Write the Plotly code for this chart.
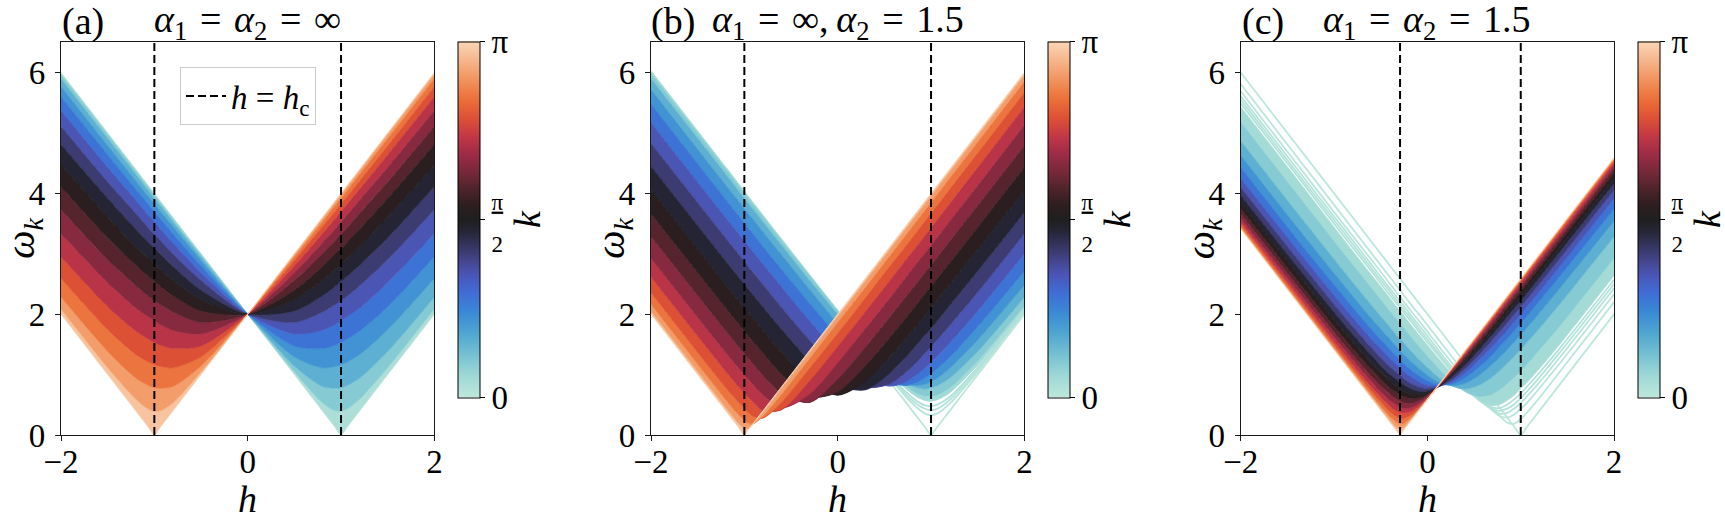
import plotly.graph_objects as go

PI = 3.141592653589793

# ---------------- data: panel (a)  alpha1 = alpha2 = inf ----------------
H_A = [-2, -1.5, -1.2, -1.07, -1, -0.93, -0.8, -0.5, 0, 0.5, 0.8, 0.93, 1, 1.07, 1.2, 1.5, 2]
K_A = [0, 0.1963, 0.3927, 0.5890, 0.7854, 0.9817, 1.1781, 1.3744, 1.5708,
       1.7671, 1.9635, 2.1598, 2.3562, 2.5525, 2.7489, 2.9452, 3.1416]
W_A = [
    [6.00, 5.00, 4.40, 4.14, 4.00, 3.86, 3.60, 3.00, 2.00, 1.00, 0.40, 0.14, 0.00, 0.14, 0.40, 1.00, 2.00],
    [5.97, 4.98, 4.38, 4.12, 3.98, 3.84, 3.58, 2.99, 2.00, 1.04, 0.53, 0.40, 0.39, 0.43, 0.59, 1.11, 2.08],
    [5.90, 4.91, 4.32, 4.06, 3.92, 3.79, 3.53, 2.95, 2.00, 1.14, 0.80, 0.77, 0.78, 0.82, 0.94, 1.38, 2.28],
    [5.77, 4.79, 4.21, 3.96, 3.83, 3.69, 3.45, 2.89, 2.00, 1.29, 1.11, 1.13, 1.16, 1.21, 1.33, 1.74, 2.59],
    [5.60, 4.64, 4.07, 3.83, 3.70, 3.57, 3.33, 2.80, 2.00, 1.47, 1.43, 1.48, 1.53, 1.59, 1.72, 2.12, 2.95],
    [5.37, 4.43, 3.89, 3.65, 3.53, 3.40, 3.18, 2.69, 2.00, 1.67, 1.73, 1.82, 1.89, 1.96, 2.10, 2.52, 3.33],
    [5.11, 4.19, 3.67, 3.44, 3.33, 3.21, 3.00, 2.56, 2.00, 1.86, 2.03, 2.15, 2.22, 2.30, 2.47, 2.90, 3.73],
    [4.81, 3.92, 3.41, 3.20, 3.09, 2.99, 2.79, 2.40, 2.00, 2.05, 2.30, 2.45, 2.54, 2.63, 2.81, 3.26, 4.11],
    [4.47, 3.61, 3.12, 2.93, 2.83, 2.73, 2.56, 2.24, 2.00, 2.24, 2.56, 2.73, 2.83, 2.93, 3.12, 3.61, 4.47],
    [4.11, 3.26, 2.81, 2.63, 2.54, 2.45, 2.30, 2.05, 2.00, 2.40, 2.79, 2.99, 3.09, 3.20, 3.41, 3.92, 4.81],
    [3.73, 2.90, 2.47, 2.30, 2.22, 2.15, 2.03, 1.86, 2.00, 2.56, 3.00, 3.21, 3.33, 3.44, 3.67, 4.19, 5.11],
    [3.33, 2.52, 2.10, 1.96, 1.89, 1.82, 1.73, 1.67, 2.00, 2.69, 3.18, 3.40, 3.53, 3.65, 3.89, 4.43, 5.37],
    [2.95, 2.12, 1.72, 1.59, 1.53, 1.48, 1.43, 1.47, 2.00, 2.80, 3.33, 3.57, 3.70, 3.83, 4.07, 4.64, 5.60],
    [2.59, 1.74, 1.33, 1.21, 1.16, 1.13, 1.11, 1.29, 2.00, 2.89, 3.45, 3.69, 3.83, 3.96, 4.21, 4.79, 5.77],
    [2.28, 1.38, 0.94, 0.82, 0.78, 0.77, 0.80, 1.14, 2.00, 2.95, 3.53, 3.79, 3.92, 4.06, 4.32, 4.91, 5.90],
    [2.08, 1.11, 0.59, 0.43, 0.39, 0.40, 0.53, 1.04, 2.00, 2.99, 3.58, 3.84, 3.98, 4.12, 4.38, 4.98, 5.97],
    [2.00, 1.00, 0.40, 0.14, 0.00, 0.14, 0.40, 1.00, 2.00, 3.00, 3.60, 3.86, 4.00, 4.14, 4.40, 5.00, 6.00],
]
HCRIT_A = [-1, 1]

# ---------------- data: panel (b)  alpha1 = inf, alpha2 = 1.5 ----------------
H_B = [-2, -1.2, -1.07, -1, -0.96, -0.9, -0.8, -0.6, -0.3, 0, 0.3, 0.55, 0.72, 0.85, 0.94, 1, 1.06, 1.2, 1.5, 2]
K_B = [0, 0.0376, 0.0625, 0.0924, 0.1389, 0.1963, 0.3927, 0.5890, 0.7854, 0.9817, 1.1781,
       1.3744, 1.5708, 1.7671, 1.9635, 2.1598, 2.3562, 2.5525, 2.7489, 2.9452, 3.1416]
W_B = [
    [6.00, 4.40, 4.14, 4.00, 3.92, 3.80, 3.60, 3.20, 2.60, 2.00, 1.40, 0.90, 0.56, 0.30, 0.12, 0.00, 0.12, 0.40, 1.00, 2.00],
    [6.01, 4.41, 4.15, 4.01, 3.93, 3.81, 3.61, 3.22, 2.62, 2.03, 1.44, 0.96, 0.65, 0.45, 0.35, 0.33, 0.35, 0.52, 1.05, 2.03],
    [6.01, 4.42, 4.16, 4.02, 3.94, 3.82, 3.62, 3.22, 2.63, 2.04, 1.46, 0.99, 0.69, 0.51, 0.43, 0.41, 0.43, 0.58, 1.08, 2.05],
    [6.01, 4.42, 4.16, 4.02, 3.94, 3.82, 3.62, 3.23, 2.64, 2.05, 1.47, 1.01, 0.73, 0.56, 0.49, 0.48, 0.50, 0.63, 1.12, 2.07],
    [6.01, 4.42, 4.16, 4.02, 3.94, 3.82, 3.62, 3.23, 2.64, 2.06, 1.49, 1.04, 0.78, 0.63, 0.57, 0.56, 0.58, 0.70, 1.16, 2.10],
    [5.99, 4.41, 4.15, 4.01, 3.93, 3.81, 3.62, 3.22, 2.64, 2.06, 1.50, 1.07, 0.82, 0.68, 0.64, 0.63, 0.65, 0.77, 1.22, 2.13],
    [5.90, 4.32, 4.06, 3.92, 3.84, 3.73, 3.53, 3.14, 2.56, 2.00, 1.46, 1.07, 0.87, 0.78, 0.76, 0.78, 0.81, 0.94, 1.38, 2.28],
    [5.72, 4.14, 3.89, 3.75, 3.67, 3.56, 3.36, 2.98, 2.41, 1.85, 1.34, 0.99, 0.84, 0.82, 0.84, 0.88, 0.93, 1.10, 1.57, 2.48],
    [5.48, 3.90, 3.65, 3.51, 3.43, 3.32, 3.12, 2.74, 2.18, 1.64, 1.16, 0.88, 0.82, 0.87, 0.95, 1.01, 1.09, 1.28, 1.79, 2.71],
    [5.17, 3.60, 3.35, 3.21, 3.14, 3.02, 2.83, 2.45, 1.89, 1.37, 0.96, 0.81, 0.87, 1.00, 1.11, 1.20, 1.29, 1.52, 2.05, 3.00],
    [4.83, 3.26, 3.01, 2.87, 2.79, 2.68, 2.49, 2.11, 1.57, 1.09, 0.79, 0.84, 1.02, 1.21, 1.36, 1.46, 1.56, 1.81, 2.36, 3.33],
    [4.45, 2.88, 2.63, 2.50, 2.42, 2.31, 2.12, 1.75, 1.23, 0.82, 0.75, 1.01, 1.27, 1.50, 1.66, 1.76, 1.87, 2.14, 2.71, 3.68],
    [4.05, 2.49, 2.24, 2.11, 2.03, 1.92, 1.73, 1.37, 0.89, 0.66, 0.89, 1.28, 1.58, 1.82, 1.99, 2.11, 2.22, 2.49, 3.07, 4.05],
    [3.66, 2.10, 1.85, 1.72, 1.64, 1.53, 1.35, 1.00, 0.63, 0.71, 1.15, 1.60, 1.92, 2.17, 2.35, 2.46, 2.58, 2.85, 3.44, 4.43],
    [3.28, 1.72, 1.47, 1.34, 1.27, 1.16, 0.98, 0.68, 0.54, 0.92, 1.46, 1.94, 2.27, 2.52, 2.70, 2.81, 2.93, 3.21, 3.80, 4.79],
    [2.92, 1.36, 1.12, 0.99, 0.92, 0.82, 0.66, 0.45, 0.67, 1.19, 1.77, 2.25, 2.59, 2.85, 3.02, 3.14, 3.26, 3.54, 4.13, 5.13],
    [2.61, 1.05, 0.81, 0.69, 0.62, 0.53, 0.40, 0.42, 0.89, 1.46, 2.05, 2.54, 2.88, 3.13, 3.31, 3.43, 3.55, 3.83, 4.43, 5.43],
    [2.35, 0.78, 0.55, 0.43, 0.37, 0.30, 0.28, 0.54, 1.10, 1.68, 2.28, 2.78, 3.11, 3.37, 3.55, 3.67, 3.79, 4.07, 4.67, 5.67],
    [2.16, 0.58, 0.34, 0.24, 0.19, 0.19, 0.31, 0.67, 1.26, 1.86, 2.45, 2.95, 3.29, 3.55, 3.73, 3.85, 3.97, 4.25, 4.85, 5.85],
    [2.04, 0.45, 0.20, 0.10, 0.10, 0.19, 0.37, 0.77, 1.36, 1.96, 2.56, 3.06, 3.40, 3.66, 3.84, 3.96, 4.08, 4.36, 4.96, 5.96],
    [2.00, 0.40, 0.14, 0.00, 0.08, 0.20, 0.40, 0.80, 1.40, 2.00, 2.60, 3.10, 3.44, 3.70, 3.88, 4.00, 4.12, 4.40, 5.00, 6.00],
]
HCRIT_B = [-1, 1]

# ---------------- data: panel (c)  alpha1 = alpha2 = 1.5 ----------------
H_C = [-2, -1.4, -0.9, -0.6, -0.42, -0.34, -0.293, -0.25, -0.17, -0.05, 0.1, 0.25, 0.4, 0.55,
       0.68, 0.78, 0.86, 0.93, 1, 1.06, 1.16, 1.4, 2]
K_C = [0, 0.0101, 0.0273, 0.0437, 0.0586, 0.0758, 0.0953, 0.1963, 0.3927, 0.5890, 0.7854, 0.9817,
       1.1781, 1.3744, 1.5708, 1.7671, 1.9635, 2.1598, 2.3562, 2.5525, 2.7489, 2.9452, 3.1416]
W_C = [
    [6.00, 4.80, 3.80, 3.20, 2.84, 2.68, 2.59, 2.50, 2.34, 2.10, 1.80, 1.50, 1.20, 0.90, 0.64, 0.44, 0.28, 0.14, 0.00, 0.12, 0.32, 0.80, 2.00],
    [5.81, 4.61, 3.61, 3.01, 2.65, 2.49, 2.40, 2.31, 2.15, 1.92, 1.62, 1.32, 1.02, 0.73, 0.48, 0.31, 0.20, 0.19, 0.26, 0.36, 0.54, 1.01, 2.20],
    [5.69, 4.49, 3.49, 2.90, 2.54, 2.38, 2.29, 2.20, 2.04, 1.81, 1.51, 1.22, 0.93, 0.65, 0.43, 0.31, 0.29, 0.34, 0.43, 0.52, 0.70, 1.15, 2.33],
    [5.61, 4.41, 3.42, 2.82, 2.46, 2.31, 2.21, 2.13, 1.97, 1.74, 1.44, 1.15, 0.87, 0.61, 0.43, 0.35, 0.37, 0.44, 0.53, 0.63, 0.80, 1.25, 2.43],
    [5.55, 4.35, 3.36, 2.76, 2.41, 2.25, 2.16, 2.07, 1.92, 1.68, 1.39, 1.11, 0.84, 0.59, 0.44, 0.40, 0.44, 0.51, 0.61, 0.71, 0.88, 1.33, 2.50],
    [5.49, 4.30, 3.30, 2.71, 2.35, 2.20, 2.11, 2.02, 1.87, 1.63, 1.35, 1.07, 0.81, 0.58, 0.46, 0.45, 0.51, 0.59, 0.69, 0.79, 0.96, 1.40, 2.57],
    [5.43, 4.24, 3.24, 2.65, 2.30, 2.14, 2.05, 1.97, 1.81, 1.58, 1.30, 1.03, 0.78, 0.58, 0.49, 0.51, 0.58, 0.66, 0.77, 0.86, 1.03, 1.47, 2.64],
    [5.19, 4.00, 3.02, 2.44, 2.09, 1.94, 1.85, 1.77, 1.62, 1.40, 1.14, 0.91, 0.72, 0.63, 0.66, 0.75, 0.85, 0.95, 1.06, 1.15, 1.33, 1.76, 2.92],
    [4.87, 3.69, 2.72, 2.15, 1.82, 1.67, 1.59, 1.52, 1.38, 1.19, 0.98, 0.82, 0.76, 0.82, 0.94, 1.07, 1.19, 1.30, 1.41, 1.52, 1.69, 2.13, 3.28],
    [4.63, 3.45, 2.49, 1.93, 1.62, 1.48, 1.40, 1.33, 1.21, 1.05, 0.89, 0.82, 0.85, 0.98, 1.15, 1.29, 1.42, 1.54, 1.66, 1.76, 1.94, 2.39, 3.54],
    [4.43, 3.25, 2.30, 1.75, 1.45, 1.32, 1.25, 1.18, 1.07, 0.94, 0.84, 0.84, 0.94, 1.12, 1.30, 1.47, 1.60, 1.72, 1.85, 1.95, 2.14, 2.59, 3.74],
    [4.25, 3.08, 2.13, 1.59, 1.30, 1.18, 1.11, 1.05, 0.96, 0.85, 0.81, 0.87, 1.02, 1.23, 1.43, 1.60, 1.74, 1.87, 1.99, 2.11, 2.29, 2.75, 3.91],
    [4.10, 2.93, 1.98, 1.45, 1.16, 1.05, 0.99, 0.93, 0.85, 0.78, 0.79, 0.90, 1.09, 1.32, 1.54, 1.72, 1.86, 1.99, 2.12, 2.23, 2.42, 2.88, 4.05],
    [3.97, 2.80, 1.85, 1.32, 1.03, 0.93, 0.87, 0.83, 0.76, 0.72, 0.78, 0.94, 1.15, 1.40, 1.63, 1.81, 1.96, 2.09, 2.22, 2.33, 2.52, 2.99, 4.16],
    [3.85, 2.68, 1.72, 1.19, 0.92, 0.81, 0.76, 0.72, 0.68, 0.67, 0.78, 0.97, 1.21, 1.47, 1.70, 1.89, 2.04, 2.17, 2.30, 2.42, 2.61, 3.08, 4.26],
    [3.75, 2.57, 1.61, 1.08, 0.80, 0.71, 0.66, 0.63, 0.60, 0.63, 0.78, 1.00, 1.25, 1.52, 1.76, 1.95, 2.11, 2.24, 2.38, 2.49, 2.69, 3.16, 4.34],
    [3.66, 2.48, 1.51, 0.97, 0.70, 0.60, 0.56, 0.53, 0.52, 0.59, 0.78, 1.02, 1.29, 1.57, 1.81, 2.01, 2.16, 2.30, 2.43, 2.55, 2.75, 3.22, 4.41],
    [3.58, 2.40, 1.43, 0.88, 0.59, 0.50, 0.46, 0.44, 0.45, 0.56, 0.78, 1.04, 1.32, 1.60, 1.86, 2.05, 2.21, 2.34, 2.48, 2.60, 2.80, 3.27, 4.46],
    [3.52, 2.33, 1.35, 0.79, 0.50, 0.40, 0.37, 0.36, 0.39, 0.53, 0.78, 1.06, 1.34, 1.63, 1.89, 2.09, 2.24, 2.38, 2.52, 2.64, 2.84, 3.31, 4.51],
    [3.48, 2.28, 1.29, 0.72, 0.41, 0.31, 0.27, 0.27, 0.33, 0.51, 0.78, 1.07, 1.36, 1.66, 1.91, 2.11, 2.27, 2.41, 2.55, 2.67, 2.87, 3.35, 4.54],
    [3.44, 2.24, 1.25, 0.66, 0.33, 0.22, 0.18, 0.19, 0.29, 0.50, 0.78, 1.08, 1.38, 1.67, 1.93, 2.13, 2.29, 2.43, 2.57, 2.69, 2.89, 3.37, 4.57],
    [3.42, 2.22, 1.22, 0.63, 0.28, 0.13, 0.09, 0.12, 0.26, 0.49, 0.79, 1.08, 1.38, 1.68, 1.94, 2.14, 2.30, 2.44, 2.58, 2.70, 2.90, 3.38, 4.58],
    [3.41, 2.21, 1.21, 0.61, 0.25, 0.09, 0.00, 0.09, 0.25, 0.49, 0.79, 1.09, 1.39, 1.69, 1.95, 2.15, 2.31, 2.45, 2.59, 2.71, 2.91, 3.39, 4.59],
]
HCRIT_C = [-0.293, 1]

# ---------------- style ----------------
FONT = "Liberation Serif"
ICEFIRE = [(0.00, (189, 231, 219)), (0.06, (158, 216, 214)), (0.12, (116, 192, 210)), (0.18, (78, 166, 208)),
           (0.24, (58, 136, 212)), (0.29, (63, 110, 214)), (0.34, (74, 86, 184)), (0.38, (69, 70, 143)),
           (0.43, (51, 51, 90)), (0.47, (36, 36, 51)), (0.50, (31, 31, 31)), (0.54, (46, 30, 32)),
           (0.58, (75, 35, 41)), (0.63, (116, 40, 56)), (0.68, (155, 43, 70)), (0.73, (192, 55, 70)),
           (0.78, (220, 79, 54)), (0.83, (234, 108, 55)), (0.88, (240, 140, 85)), (0.93, (245, 172, 127)),
           (1.00, (250, 215, 184))]
COLORSCALE = [[p, "rgb(%d,%d,%d)" % c] for p, c in ICEFIRE]


def cmap(t):
    t = min(max(t, 0.0), 1.0)
    for (p0, c0), (p1, c1) in zip(ICEFIRE[:-1], ICEFIRE[1:]):
        if t <= p1:
            u = (t - p0) / (p1 - p0)
            return "rgb(%d,%d,%d)" % tuple(round(a + (b - a) * u) for a, b in zip(c0, c1))
    return "rgb(%d,%d,%d)" % ICEFIRE[-1][1]


W, HGT = 1725, 516
def px(x): return x / W
def py(y): return 1 - y / HGT

PLOT_LEFT = [61, 651, 1240.7]
PLOT_W = 373.4
PLOT_TOP, PLOT_BOT = 42.3, 435
CB_GAP, CB_THICK = 23.6, 21.6
CB_TOP, CB_BOT = 41.7, 397.3
SP = "\u2004"

panels = [
    dict(h=H_A, k=K_A, w=W_A, start=0, hc=HCRIT_A, tag="(a)",
         title=f"<i>α</i><sub>1</sub>{SP}={SP}<i>α</i><sub>2</sub>{SP}={SP}∞"),
    dict(h=H_B, k=K_B, w=W_B, start=4, hc=HCRIT_B, tag="(b)",
         title=f"<i>α</i><sub>1</sub>{SP}={SP}∞,\u2009<i>α</i><sub>2</sub>{SP}={SP}1.5"),
    dict(h=H_C, k=K_C, w=W_C, start=6, hc=HCRIT_C, tag="(c)",
         title=f"<i>α</i><sub>1</sub>{SP}={SP}<i>α</i><sub>2</sub>{SP}={SP}1.5"),
]

fig = go.Figure()
annotations = []
shapes = []
for n, p in enumerate(panels):
    sfx = "" if n == 0 else str(n + 1)
    xa, ya = "x" + sfx, "y" + sfx
    H, K, WW, start = p["h"], p["k"], p["w"], p["start"]
    for i, (k, w) in enumerate(zip(K, WW)):
        if i < start:
            fig.add_trace(go.Scatter(x=H, y=w, mode="lines", xaxis=xa, yaxis=ya,
                                     line=dict(color=cmap(k / PI), width=1.8, shape="spline", smoothing=0.8),
                                     showlegend=False, hoverinfo="skip"))
        elif i == start:
            fig.add_trace(go.Scatter(x=H, y=w, mode="lines", xaxis=xa, yaxis=ya,
                                     line=dict(color=cmap(k / PI), width=1.0, shape="spline", smoothing=0.8),
                                     showlegend=False, hoverinfo="skip"))
        else:
            fig.add_trace(go.Scatter(x=H, y=w, mode="lines", xaxis=xa, yaxis=ya,
                                     fill="tonexty", fillcolor=cmap((K[i - 1] + k) / 2 / PI),
                                     line=dict(color=cmap(k / PI), width=1.0, shape="spline", smoothing=0.8),
                                     showlegend=False, hoverinfo="skip"))
    left = PLOT_LEFT[n]
    fig.add_trace(go.Scatter(
        x=[None], y=[None], mode="markers", xaxis=xa, yaxis=ya, showlegend=False, hoverinfo="skip",
        marker=dict(color=[0], cmin=0, cmax=PI, colorscale=COLORSCALE, showscale=True,
                    colorbar=dict(x=px(left + PLOT_W + CB_GAP), xanchor="left", xpad=0, ypad=0,
                                  y=py((CB_TOP + CB_BOT) / 2), yanchor="middle",
                                  len=CB_BOT - CB_TOP, lenmode="pixels",
                                  thickness=CB_THICK, thicknessmode="pixels",
                                  outlinewidth=1, outlinecolor="black",
                                  ticks="outside", ticklen=5, tickwidth=1, tickcolor="black",
                                  tickvals=[0, PI / 2, PI],
                                  ticktext=["0", "<span style='font-size:23px'><u>π</u></span><br><span style='font-size:23px'>2</span>", "π"],
                                  tickfont=dict(family=FONT, size=33, color="black"),
                                  title=dict(text="<i>k</i>", side="right",
                                             font=dict(family=FONT, size=38, color="black"))))))
    for hc in p["hc"]:
        shapes.append(dict(type="line", xref=xa, yref=ya + " domain", x0=hc, x1=hc, y0=0, y1=1,
                           line=dict(color="black", width=2, dash="8px,4px")))
    cx = left + PLOT_W / 2
    annotations += [
        dict(text=p["tag"], x=px(left + 22), y=py(22), xref="paper", yref="paper", showarrow=False,
             xanchor="center", yanchor="middle", font=dict(family=FONT, size=38, color="black")),
        dict(text=p["title"], x=px(cx), y=py(22), xref="paper", yref="paper", showarrow=False,
             xanchor="center", yanchor="middle", font=dict(family=FONT, size=38, color="black")),
        dict(text="<i>h</i>", x=px(cx), y=py(499), xref="paper", yref="paper", showarrow=False,
             xanchor="center", yanchor="middle", font=dict(family=FONT, size=38, color="black")),
        dict(text="<i>ω</i><sub><i>k</i></sub>", x=px(left - 38), y=py((PLOT_TOP + PLOT_BOT) / 2),
             xref="paper", yref="paper", showarrow=False, textangle=-90,
             xanchor="center", yanchor="middle", font=dict(family=FONT, size=40, color="black")),
    ]

fig.add_trace(go.Scatter(x=[None], y=[None], mode="lines", xaxis="x", yaxis="y",
                         line=dict(color="black", width=2, dash="8px,4px"),
                         name="<i>h</i> = <i>h</i><sub>c</sub>", showlegend=True))

axis_common = dict(showline=True, mirror=True, linecolor="#1a1a1a", linewidth=1.3, showgrid=False,
                   zeroline=False, ticks="outside", ticklen=5, tickwidth=1.3, tickcolor="#1a1a1a",
                   tickfont=dict(family=FONT, size=33, color="black"))
layout = dict(width=W, height=HGT, margin=dict(l=0, r=0, t=0, b=0, autoexpand=False),
              plot_bgcolor="white", paper_bgcolor="white",
              annotations=annotations, shapes=shapes,
              showlegend=True,
              legend=dict(x=px(248), y=py(96), xanchor="center", yanchor="middle",
                          bgcolor="rgba(255,255,255,0.8)", bordercolor="#cccccc", borderwidth=1,
                          font=dict(family=FONT, size=33, color="black"), itemwidth=40))
for n in range(3):
    sfx = "" if n == 0 else str(n + 1)
    left = PLOT_LEFT[n]
    layout["xaxis" + sfx] = dict(axis_common, domain=[px(left), px(left + PLOT_W)], range=[-2, 2],
                                 tickvals=[-2, 0, 2], ticktext=["−2", "0", "2"],
                                 ticklabelstandoff=-8, anchor="y" + sfx)
    layout["yaxis" + sfx] = dict(axis_common, domain=[py(PLOT_BOT), py(PLOT_TOP)], range=[0, 6.5],
                                 tickvals=[0, 2, 4, 6], ticklabelstandoff=3, anchor="x" + sfx)
fig.update_layout(**layout)
fig.write_html("out.html", config={"displayModeBar": False},
               post_script="document.body.style.margin='0px';document.body.style.overflow='hidden';")
